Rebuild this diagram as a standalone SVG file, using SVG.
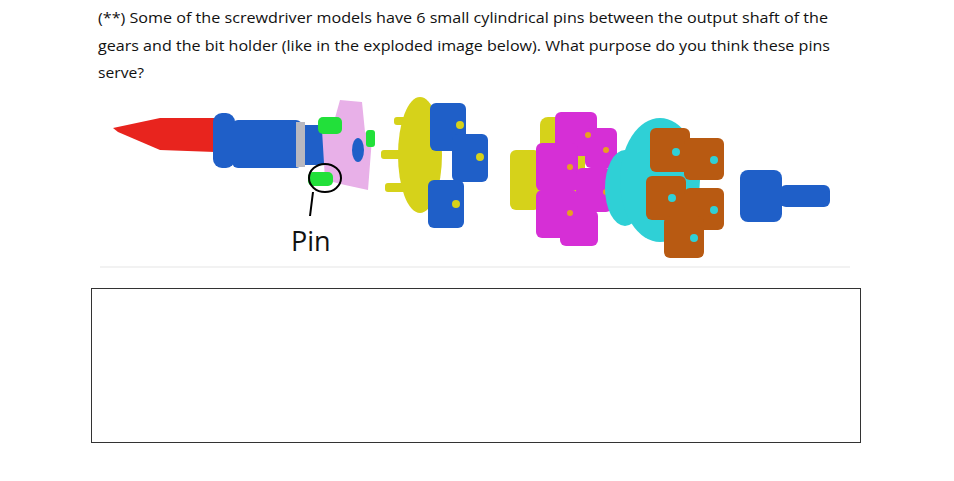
<svg xmlns="http://www.w3.org/2000/svg" width="954" height="481" viewBox="0 0 954 481">
<style>
.t{font-family:"Open Sans","Liberation Sans",sans-serif;font-size:14.5px;fill:#111}
.bl{fill:#1f5fc8}.yl{fill:#d6d21a}.mg{fill:#d62fd6}.br{fill:#b85a12}.cy{fill:#2fd0d6}.gr{fill:#22e03a}
</style>
<rect width="954" height="481" fill="#fff"/>
<text class="t" x="98" y="23" textLength="730" lengthAdjust="spacingAndGlyphs">(**) Some of the screwdriver models have 6 small cylindrical pins between the output shaft of the</text>
<text class="t" x="98" y="51" textLength="732" lengthAdjust="spacingAndGlyphs">gears and the bit holder (like in the exploded image below). What purpose do you think these pins</text>
<text class="t" x="98" y="78" textLength="46" lengthAdjust="spacingAndGlyphs">serve?</text>
<g id="scene">
<polygon points="113,128 160,118 215,118 215,152 160,150 118,132" fill="#e8241e"/>
<rect x="213" y="113" width="22" height="55" rx="9" class="bl"/>
<rect x="232" y="120" width="70" height="48" rx="6" class="bl"/>
<rect x="296" y="122" width="9" height="45" fill="#b8b8c0"/>
<rect x="305" y="125" width="20" height="40" class="bl"/>
<polygon points="340,100 362,102 365,132 372,138 368,190 345,185 325,180 322,130 335,118" fill="#e8b0e8"/>
<ellipse cx="358" cy="150" rx="6" ry="12" class="bl"/>
<rect x="318" y="117" width="24" height="17" rx="5" class="gr"/>
<rect x="366" y="130" width="9" height="17" rx="3" class="gr"/>
<rect x="308" y="172" width="25" height="14" rx="5" class="gr"/>
<ellipse cx="325" cy="178" rx="16" ry="14" fill="none" stroke="#000" stroke-width="2"/>
<line x1="313" y1="192" x2="310" y2="216" stroke="#000" stroke-width="2"/>
<text x="291" y="251" font-family="'Open Sans','Liberation Sans',sans-serif" font-size="27" fill="#111">Pin</text>
<g id="carrier1">
<rect x="394" y="117" width="50" height="8" rx="3" class="yl"/>
<rect x="381" y="150" width="55" height="9" rx="3" class="yl"/>
<rect x="385" y="183" width="55" height="9" rx="3" class="yl"/>
<ellipse cx="420" cy="155" rx="22" ry="58" class="yl"/>
<rect x="430" y="103" width="36" height="48" rx="6" class="bl"/>
<rect x="452" y="134" width="36" height="48" rx="6" class="bl"/>
<rect x="428" y="180" width="36" height="48" rx="6" class="bl"/>
<circle cx="460" cy="125" r="4" class="yl"/><circle cx="480" cy="157" r="4" class="yl"/><circle cx="456" cy="204" r="4" class="yl"/>
</g>
<g id="carrier2">
<rect x="510" y="150" width="30" height="60" rx="6" class="yl"/>
<rect x="540" y="117" width="45" height="120" rx="8" class="yl"/>
<rect x="555" y="112" width="42" height="44" rx="6" class="mg"/>
<rect x="585" y="128" width="32" height="40" rx="6" class="mg"/>
<rect x="536" y="143" width="42" height="48" rx="6" class="mg"/>
<rect x="576" y="168" width="36" height="44" rx="6" class="mg"/>
<rect x="536" y="190" width="42" height="48" rx="6" class="mg"/>
<rect x="560" y="210" width="38" height="36" rx="6" class="mg"/>
<circle cx="588" cy="135" r="3" fill="#e8a020"/><circle cx="606" cy="150" r="3" fill="#e8a020"/><circle cx="570" cy="167" r="3" fill="#e8a020"/><circle cx="606" cy="192" r="3" fill="#e8a020"/><circle cx="570" cy="213" r="3" fill="#e8a020"/>
</g>
<g id="carrier3">
<ellipse cx="625" cy="188" rx="20" ry="38" class="cy"/>
<ellipse cx="660" cy="180" rx="40" ry="62" class="cy"/>
<rect x="650" y="128" width="40" height="44" rx="6" class="br"/>
<rect x="684" y="138" width="40" height="42" rx="6" class="br"/>
<rect x="646" y="176" width="40" height="44" rx="6" class="br"/>
<rect x="684" y="188" width="40" height="42" rx="6" class="br"/>
<rect x="664" y="216" width="40" height="42" rx="6" class="br"/>
<circle cx="676" cy="152" r="4" class="cy"/><circle cx="714" cy="160" r="4" class="cy"/><circle cx="672" cy="198" r="4" class="cy"/><circle cx="714" cy="210" r="4" class="cy"/><circle cx="694" cy="238" r="4" class="cy"/>
</g>
<g id="output">
<rect x="780" y="185" width="50" height="22" rx="6" class="bl"/>
<rect x="740" y="170" width="42" height="52" rx="8" class="bl"/>
</g>
<rect x="100" y="266" width="750" height="2" fill="#f2f2f2"/>
</g>
<rect x="91.5" y="288.5" width="769" height="154" fill="none" stroke="#333" stroke-width="1"/>
</svg>
